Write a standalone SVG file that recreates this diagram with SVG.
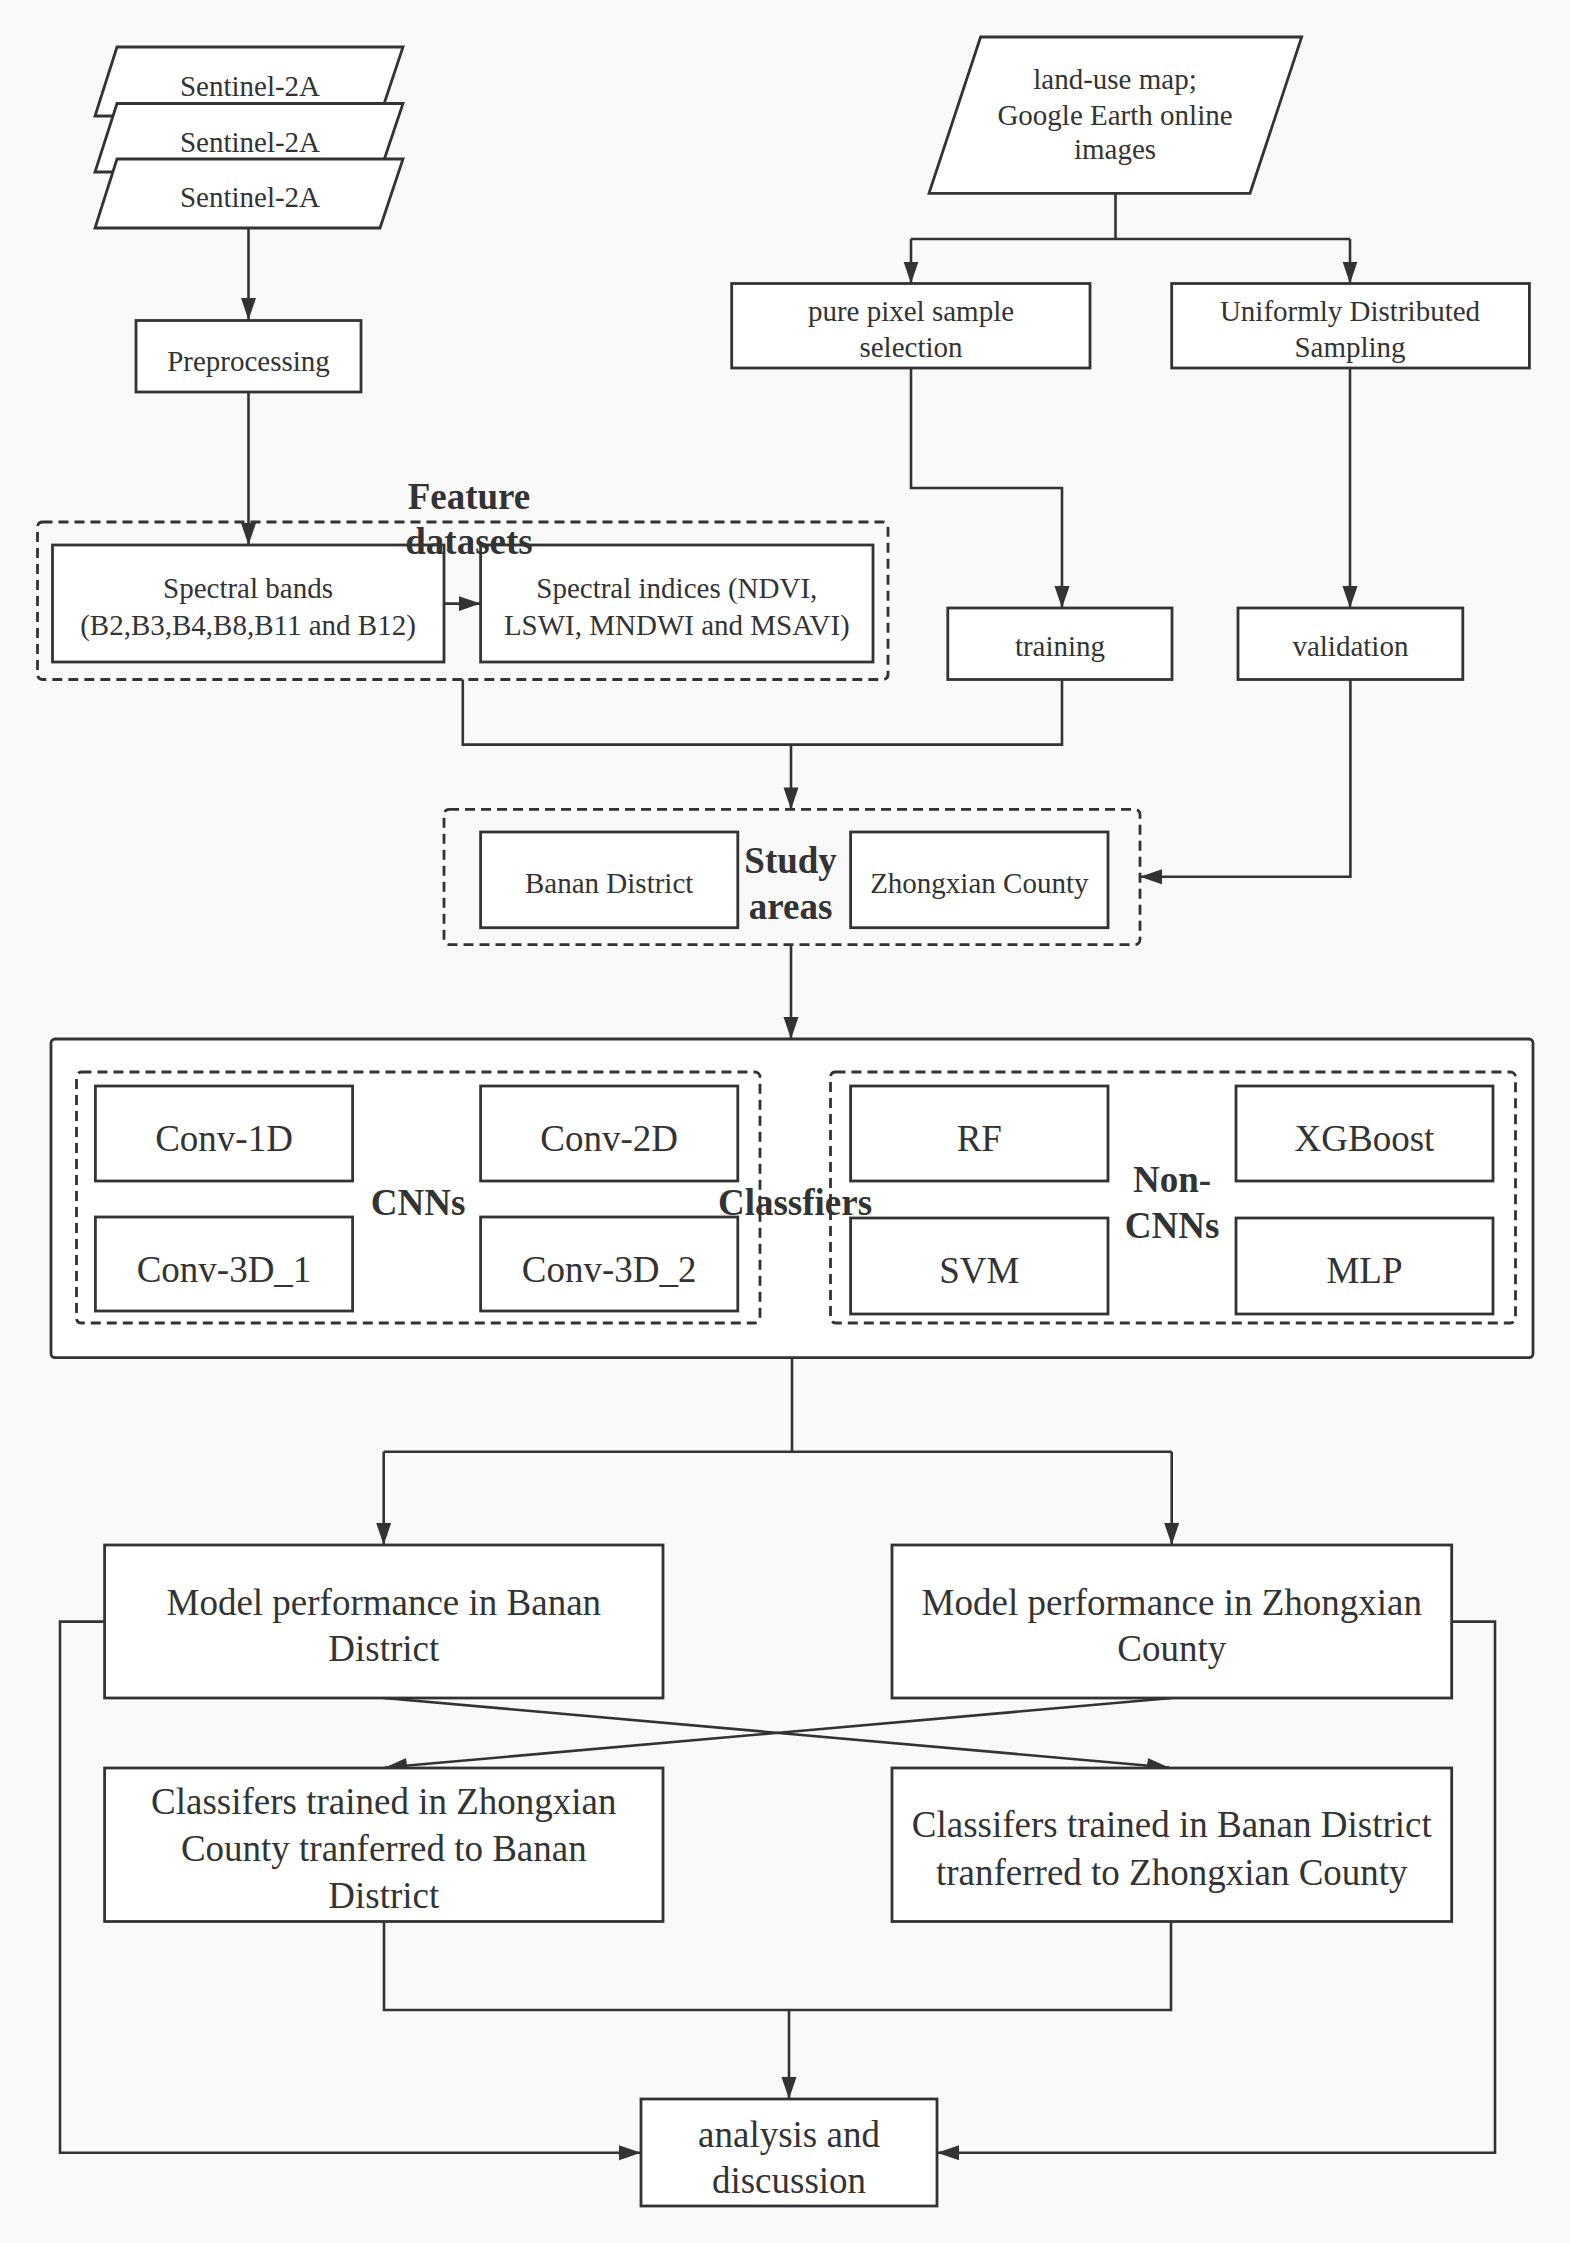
<svg xmlns="http://www.w3.org/2000/svg" width="1570" height="2243" viewBox="0 0 1570 2243">
<defs>
<marker id="ah" markerUnits="userSpaceOnUse" markerWidth="24" markerHeight="16" refX="22" refY="7.5" orient="auto">
<path d="M0,0 L22,7.5 L0,15 z" fill="#333"/>
</marker>
<style>
.b{fill:#fff;stroke:#333;stroke-width:2.8}
.d{fill:none;stroke:#333;stroke-width:2.8;stroke-dasharray:10 6}
.c{fill:none;stroke:#333;stroke-width:2.6}
.a{marker-end:url(#ah)}
text{font-family:"Liberation Serif","Times New Roman",serif;fill:#333;text-anchor:middle}
.s{font-size:29px}
.l{font-size:37px}
.t{font-size:37px;font-weight:bold}
</style>
</defs>
<rect x="0" y="0" width="1570" height="2243" fill="#f9f9f9"/>

<g id="connectors">
<path class="c a" d="M248.5,228 V320"/>
<path class="c a" d="M248.5,392 V545"/>
<path class="c a" d="M444,603.6 H480.6"/>
<path class="c" d="M1115.5,193.3 V239 M911,239 H1350"/>
<path class="c a" d="M911,239 V283.5"/>
<path class="c a" d="M1350,239 V283.5"/>
<path class="c a" d="M911,368 V488 H1062 V608"/>
<path class="c a" d="M1350,368 V608"/>
<path class="c" d="M462.8,679.5 V744.6 H1062 V679.5"/>
<path class="c a" d="M791,744.6 V809.4"/>
<path class="c a" d="M1350.4,679.5 V876.8 H1140"/>
<path class="c a" d="M791,944.6 V1039"/>
<path class="c" d="M792,1357.6 V1451.7 M383.7,1451.7 H1171.7"/>
<path class="c a" d="M383.7,1451.7 V1545"/>
<path class="c a" d="M1171.7,1451.7 V1545"/>
<path class="c a" d="M383.8,1698 L1169,1767.5"/>
<path class="c a" d="M1171.8,1698 L385,1767.5"/>
<path class="c" d="M384,1921.5 V2010 H1171 V1921.5"/>
<path class="c a" d="M789,2010 V2099"/>
<path class="c a" d="M104.6,1621.6 H60 V2152.7 H641"/>
<path class="c a" d="M1451.7,1621.6 H1495 V2152.7 H937"/>
</g>

<g id="sentinel1">
<polygon class="b" points="117,47 403,47 380,116 95,116"/>
<text class="s" x="250" y="96">Sentinel-2A</text>
</g>
<g id="sentinel2">
<polygon class="b" points="117,103.5 403,103.5 380,172 95,172"/>
<text class="s" x="250" y="152">Sentinel-2A</text>
</g>
<g id="sentinel3">
<polygon class="b" points="117,159 403,159 380,228 95,228"/>
<text class="s" x="250" y="207">Sentinel-2A</text>
</g>

<g id="preprocessing">
<rect class="b" x="136" y="320.5" width="225" height="71.5"/>
<text class="s" x="248.5" y="370.5">Preprocessing</text>
</g>

<g id="feature-datasets">
<rect class="d" x="37.5" y="522" width="850.5" height="157.5" rx="5"/>
<g id="spectral-bands">
<rect class="b" x="52.5" y="545" width="391.5" height="117"/>
<text class="s" x="248" y="598">Spectral bands</text>
<text class="s" x="248" y="635">(B2,B3,B4,B8,B11 and B12)</text>
</g>
<g id="spectral-indices">
<rect class="b" x="480.6" y="545" width="392.4" height="117"/>
<text class="s" x="676.8" y="598">Spectral indices (NDVI,</text>
<text class="s" x="676.8" y="635">LSWI, MNDWI and MSAVI)</text>
</g>
<text class="t" x="469" y="509">Feature</text>
<text class="t" x="469" y="553.6">datasets</text>
</g>

<g id="land-use">
<polygon class="b" points="980.6,37 1301.7,37 1250,193.3 929,193.3"/>
<text class="s" x="1115" y="89">land-use map;</text>
<text class="s" x="1115" y="125">Google Earth online</text>
<text class="s" x="1115" y="158.5">images</text>
</g>

<g id="pure-pixel">
<rect class="b" x="731.7" y="283.5" width="358.3" height="84.5"/>
<text class="s" x="911" y="320.5">pure pixel sample</text>
<text class="s" x="911" y="357">selection</text>
</g>
<g id="uniform-sampling">
<rect class="b" x="1171.7" y="283.5" width="357.7" height="84.5"/>
<text class="s" x="1350" y="320.5">Uniformly Distributed</text>
<text class="s" x="1350" y="357">Sampling</text>
</g>
<g id="training">
<rect class="b" x="947.8" y="608" width="224.2" height="71.5"/>
<text class="s" x="1060" y="656">training</text>
</g>
<g id="validation">
<rect class="b" x="1238" y="608" width="224.8" height="71.5"/>
<text class="s" x="1350.4" y="656">validation</text>
</g>

<g id="study-areas">
<rect class="d" x="444" y="809.4" width="696" height="135.2" rx="5"/>
<g id="banan">
<rect class="b" x="480.6" y="832" width="257.2" height="95.7"/>
<text class="s" x="609.2" y="893">Banan District</text>
</g>
<g id="zhongxian">
<rect class="b" x="850.6" y="832" width="257.4" height="95.7"/>
<text class="s" x="979.3" y="893">Zhongxian County</text>
</g>
<text class="t" x="790.6" y="873">Study</text>
<text class="t" x="790.6" y="919">areas</text>
</g>

<g id="classifiers">
<rect class="b" x="51" y="1039" width="1482" height="318.6" rx="4"/>
<g id="cnns">
<rect class="d" x="76.5" y="1072" width="683.5" height="251" rx="5"/>
<g id="conv1d"><rect class="b" x="95.4" y="1086" width="257.2" height="95"/><text class="l" x="224" y="1151">Conv-1D</text></g>
<g id="conv2d"><rect class="b" x="480.6" y="1086" width="257.2" height="95"/><text class="l" x="609.2" y="1151">Conv-2D</text></g>
<g id="conv3d1"><rect class="b" x="95.4" y="1217" width="257.2" height="94"/><text class="l" x="224" y="1282">Conv-3D_1</text></g>
<g id="conv3d2"><rect class="b" x="480.6" y="1217" width="257.2" height="94"/><text class="l" x="609.2" y="1282">Conv-3D_2</text></g>
<text class="t" x="418" y="1214.7">CNNs</text>
</g>
<g id="non-cnns">
<rect class="d" x="830.5" y="1072" width="685" height="251" rx="5"/>
<g id="rf"><rect class="b" x="850.6" y="1086" width="257.4" height="95"/><text class="l" x="979.3" y="1151">RF</text></g>
<g id="xgboost"><rect class="b" x="1236" y="1086" width="257" height="95"/><text class="l" x="1364.5" y="1151">XGBoost</text></g>
<g id="svm"><rect class="b" x="850.6" y="1218" width="257.4" height="96"/><text class="l" x="979.3" y="1283">SVM</text></g>
<g id="mlp"><rect class="b" x="1236" y="1218" width="257" height="96"/><text class="l" x="1364.5" y="1283">MLP</text></g>
<text class="t" x="1172" y="1191.5">Non-</text>
<text class="t" x="1172" y="1238.4">CNNs</text>
</g>
<text class="t" x="795" y="1214.7">Classfiers</text>
</g>

<g id="model-banan">
<rect class="b" x="104.6" y="1545" width="558.4" height="153"/>
<text class="l" x="383.8" y="1615">Model performance in Banan</text>
<text class="l" x="383.8" y="1661">District</text>
</g>
<g id="model-zhongxian">
<rect class="b" x="892" y="1545" width="559.7" height="153"/>
<text class="l" x="1171.8" y="1615">Model performance in Zhongxian</text>
<text class="l" x="1171.8" y="1661">County</text>
</g>
<g id="transfer-to-banan">
<rect class="b" x="104.6" y="1768" width="558.4" height="153.5"/>
<text class="l" x="383.8" y="1814">Classifers trained in Zhongxian</text>
<text class="l" x="383.8" y="1861">County tranferred to Banan</text>
<text class="l" x="383.8" y="1908">District</text>
</g>
<g id="transfer-to-zhongxian">
<rect class="b" x="892" y="1768" width="559.7" height="153.5"/>
<text class="l" x="1171.8" y="1837">Classifers trained in Banan District</text>
<text class="l" x="1171.8" y="1885">tranferred to Zhongxian County</text>
</g>
<g id="analysis">
<rect class="b" x="641" y="2099" width="296" height="107"/>
<text class="l" x="789" y="2146.7">analysis and</text>
<text class="l" x="789" y="2193">discussion</text>
</g>
</svg>
